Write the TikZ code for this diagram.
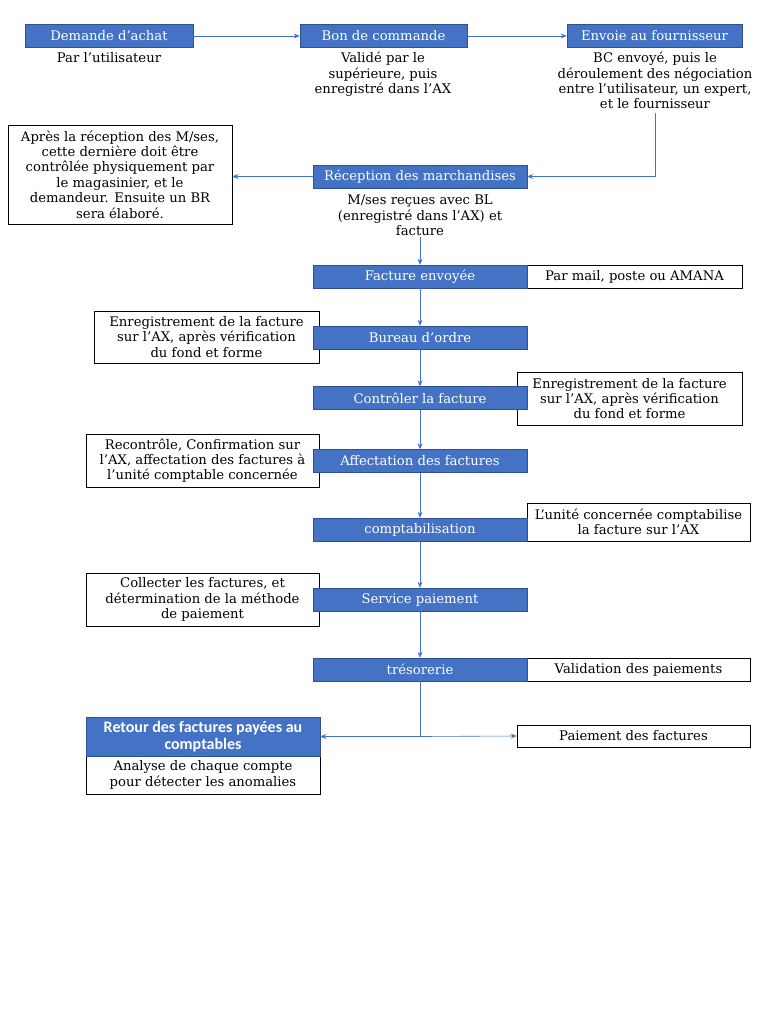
\documentclass[tikz,border=0pt]{standalone}
\usepackage{fontspec}
\setmainfont{DejaVu Serif}
\newfontfamily\retourfont{Carlito}
\usetikzlibrary{arrows.meta}

\definecolor{boxblue}{HTML}{4472C4}
\definecolor{edgeblue}{HTML}{2F528F}
\tikzset{
  etape/.style={draw=edgeblue, fill=boxblue, text=white, minimum width=214, minimum height=23,
    inner sep=1pt, align=center, font=\fontsize{13.2}{15}\selectfont},
  remarque/.style={align=center, inner sep=1pt, font=\fontsize{13.2}{15.4}\selectfont},
  cadre/.style={draw=black, semithick, fill=white, align=center, inner sep=1pt,
    font=\fontsize{13.2}{15.4}\selectfont},
  fleche/.style={draw=boxblue, semithick, -{Stealth[length=6pt,width=5pt]}},
  trait/.style={draw=boxblue, semithick}
}

\begin{document}
\begin{tikzpicture}[x=1pt,y=-1pt]
    \useasboundingbox (0,0) rectangle (768,1024);
    %\draw[very thin,color=gray] (0,0) grid[step=50] (768,1024);

    % premiere ligne
    \node[etape, minimum width=168] (demande) at (109,36) {Demande d’achat};
    \node[etape, minimum width=167] (commande) at (383.5,36) {Bon de commande};
    \node[etape, minimum width=175] (envoi) at (654.5,36) {Envoie au fournisseur};
    \node[remarque, anchor=north] (demandenote) at (109,51) {Par l’utilisateur};
    \node[remarque, anchor=north] (commandenote) at (383,51) {Validé par le\\supérieure, puis\\enregistré dans l’AX};
    \node[remarque, anchor=north] (envoinote) at (655,51) {BC envoyé, puis le\\déroulement des négociation\\entre l’utilisateur, un expert,\\et le fournisseur};

    % cadres a cote
    \node[cadre, minimum width=224, minimum height=99] (controlephys) at (120,174.5) {Après la réception des M/ses,\\cette dernière doit être\\contrôlée physiquement par\\le magasinier, et le\\demandeur. Ensuite un BR\\sera élaboré.};
    \node[cadre, minimum width=215, minimum height=23] (mail) at (634.5,276.5) {Par mail, poste ou AMANA};
    \node[cadre, minimum width=225, minimum height=52] (bureaunote) at (206.5,337) {Enregistrement de la facture\\sur l’AX, après vérification\\du fond et forme};
    \node[cadre, minimum width=225, minimum height=53] (controlenote) at (629.5,398.5) {Enregistrement de la facture\\sur l’AX, après vérification\\du fond et forme};
    \node[cadre, minimum width=233, minimum height=53] (affectnote) at (202.5,460.5) {Recontrôle, Confirmation sur\\l’AX, affectation des factures à\\l’unité comptable concernée};
    \node[cadre, minimum width=223, minimum height=38] (comptanote) at (638.5,522) {L’unité concernée comptabilise\\la facture sur l’AX};
    \node[cadre, minimum width=233, minimum height=53] (servicenote) at (202.5,599.5) {Collecter les factures, et\\détermination de la méthode\\de paiement};
    \node[cadre, minimum width=223, minimum height=23] (validation) at (638.5,669.5) {Validation des paiements};
    \node[cadre, minimum width=233, minimum height=22] (paiement) at (633.5,736) {Paiement des factures};
    \node[cadre, minimum width=234, minimum height=38] (analyse) at (203,775) {Analyse de chaque compte\\pour détecter les anomalies};

    % etapes
    \node[etape] (reception) at (420,176.5) {Réception des marchandises};
    \node[remarque, anchor=north] (receptionnote) at (420,194) {M/ses reçues avec BL\\(enregistré dans l’AX) et\\facture};
    \node[etape] (facture) at (420,276.5) {Facture envoyée};
    \node[etape] (bureau) at (420,337.5) {Bureau d’ordre};
    \node[etape] (controle) at (420,398) {Contrôler la facture};
    \node[etape] (affect) at (420,461) {Affectation des factures};
    \node[etape] (compta) at (420,529.5) {comptabilisation};
    \node[etape] (service) at (420,599.5) {Service paiement};
    \node[etape] (treso) at (420,669.5) {trésorerie};
    \node[etape, minimum width=234, minimum height=39, font=\retourfont\bfseries\fontsize{16}{16.5}\selectfont] (retour) at (203,736.5) {Retour des factures payées au\\comptables};
    \coordinate (split) at (420,736.5);

    % fleches
    \draw[fleche] (demande) -- (commande);
    \draw[fleche] (commande) -- (envoi);
    \draw[fleche] ([yshift=-3pt]envoinote.south) |- (reception.east);
    \draw[fleche] (reception.west) -- (reception.west -| controlephys.east);
    \draw[fleche] (receptionnote.south) -- (facture.north);
    \foreach \a/\b in {facture/bureau, bureau/controle, controle/affect, affect/compta, compta/service, service/treso}
        \draw[fleche] (\a) -- (\b);
    \draw[trait] (treso.south) -- (split);
    \draw[fleche] (split) -- (retour.east);
    \draw[fleche] (split) -- (paiement.west);
\end{tikzpicture}
\end{document}
